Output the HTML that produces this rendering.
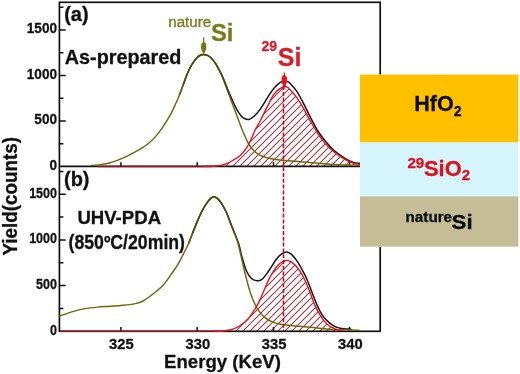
<!DOCTYPE html>
<html><head><meta charset="utf-8"><title>Energy spectrum</title>
<style>
html,body{margin:0;padding:0;background:#fff;}
body{width:520px;height:374px;overflow:hidden;position:relative;font-family:"Liberation Sans",sans-serif;}
svg{position:absolute;left:0;top:0;display:block;}
text{font-family:"Liberation Sans",sans-serif;font-weight:bold;fill:#111;stroke:#111;stroke-width:0.3px;}
.tk{font-size:15.1px;}
.lab{font-size:17px;}
</style></head><body>
<svg width="520" height="374" viewBox="0 0 520 374">
<defs>
<pattern id="hatch" width="7.00" height="7.00" patternUnits="userSpaceOnUse">
<path d="M-0.700,7.700 L7.700,-0.700 M-0.700,0.700 L0.700,-0.700 M6.300,7.700 L7.700,6.300" stroke="#a0303c" stroke-width="1.05" fill="none"/>
</pattern>
</defs>
<rect width="520" height="374" fill="#fff"/>
<!-- hatched areas -->
<path d="M205.0,166.4C207.1,166.3 214.2,166.2 217.6,165.8C220.9,165.4 222.6,165.1 225.1,164.2C227.6,163.3 230.2,162.0 232.7,160.5C235.2,159.0 237.9,157.5 240.2,155.4C242.5,153.3 244.6,150.7 246.5,147.9C248.4,145.1 250.1,141.5 251.5,138.5C252.9,135.5 253.7,132.8 255.1,130.0C256.5,127.2 258.4,124.4 259.8,121.7C261.2,119.0 262.5,116.3 263.8,113.6C265.1,110.9 266.5,108.3 267.9,105.6C269.2,102.9 270.6,99.8 271.9,97.5C273.2,95.2 274.5,93.6 275.9,92.1C277.2,90.6 278.5,89.5 280.0,88.6C281.5,87.7 283.4,86.7 284.7,86.5C286.0,86.3 287.0,86.9 288.0,87.5C289.0,88.1 289.0,88.4 290.5,90.1C292.0,91.8 294.7,94.7 296.8,97.6C298.9,100.5 300.8,103.7 303.1,107.7C305.4,111.7 308.1,117.1 310.6,121.5C313.1,125.9 315.7,130.3 318.2,134.1C320.7,137.9 323.1,141.2 325.7,144.1C328.2,147.0 330.4,148.9 333.5,151.4C336.6,153.9 341.0,156.9 344.2,158.8C347.4,160.8 350.2,162.2 352.8,163.1C355.4,164.0 358.8,164.3 360.0,164.5L360.0,166.4 L205.0,166.4 Z" fill="url(#hatch)"/>
<path d="M215.0,331.3C216.7,331.2 222.2,331.1 225.1,330.7C228.0,330.3 230.2,330.1 232.7,329.2C235.2,328.3 237.7,327.2 240.2,325.5C242.7,323.8 245.5,321.7 247.8,319.2C250.1,316.7 252.2,313.3 254.1,310.4C256.0,307.5 257.4,305.0 259.1,301.6C260.8,298.2 262.4,294.1 264.1,290.3C265.8,286.5 267.4,282.3 269.1,278.9C270.8,275.5 272.5,272.6 274.2,270.1C275.9,267.6 277.5,265.4 279.2,263.9C280.9,262.3 282.7,261.4 284.2,260.8C285.7,260.2 286.5,260.2 288.0,260.6C289.5,261.0 291.1,261.5 293.0,263.1C294.9,264.7 297.3,267.3 299.3,270.1C301.3,272.9 303.1,276.5 304.8,280.0C306.5,283.5 308.0,287.2 309.6,291.2C311.2,295.2 312.8,300.4 314.4,304.1C316.0,307.9 317.7,310.9 319.3,313.7C320.9,316.5 322.5,318.9 324.1,320.9C325.7,322.9 327.3,324.5 328.9,325.7C330.5,326.9 332.2,327.5 333.7,328.2C335.2,328.9 336.1,329.4 337.7,329.8C339.2,330.2 342.1,330.5 343.0,330.6L343.0,331.3 L215.0,331.3 Z" fill="url(#hatch)"/>
<!-- frame -->
<g stroke="#111" stroke-width="1.7" fill="none">
<rect x="59.4" y="2.3" width="320.8" height="329"/>
<line x1="59" y1="166.4" x2="380.2" y2="166.4" stroke-width="1.9"/>
</g>
<!-- ticks -->
<g stroke="#111" stroke-width="1.5">
<path d="M59.4,30h6.3 M59.4,75.5h6.3 M59.4,120.9h6.3 M59.4,194.3h6.3 M59.4,240h6.3 M59.4,285.6h6.3" fill="none"/>
<path d="M59.4,7.3h4 M59.4,52.7h4 M59.4,98.2h4 M59.4,143.7h4 M59.4,171.5h4 M59.4,217.1h4 M59.4,262.8h4 M59.4,308.5h4" fill="none"/>
<path d="M120.9,166.4v-4.2 M197.2,166.4v-4.2 M273.5,166.4v-4.2 M349.5,166.4v-4.2 M120.9,331.3v-4.2 M197.2,331.3v-4.2 M273.5,331.3v-4.2 M349.5,331.3v-4.2" fill="none"/>
</g>
<!-- red baselines -->
<path d="M98,166.4H212 M60,331.3H222" stroke="#921324" stroke-width="1.45" fill="none"/>
<!-- curves a -->
<g fill="none" stroke-linejoin="round" stroke-linecap="round">
<path d="M179.4,94.9C180.1,93.1 182.2,87.6 183.5,84.0C184.8,80.4 186.2,76.4 187.5,73.3C188.8,70.2 189.9,67.8 191.5,65.2C193.1,62.6 195.4,59.5 196.9,57.8C198.4,56.1 199.4,55.8 200.5,55.2C201.6,54.6 202.5,54.4 203.6,54.4C204.7,54.4 205.9,54.7 207.0,55.2C208.1,55.7 208.9,55.9 210.4,57.3C211.9,58.7 214.0,61.0 215.8,63.8C217.6,66.6 219.9,71.2 221.3,74.0C222.7,76.8 222.8,77.3 224.1,80.3C225.3,83.3 227.3,88.6 228.8,92.1C230.3,95.6 231.6,98.6 232.9,101.5C234.2,104.4 235.6,107.2 236.9,109.6C238.2,112.0 239.7,114.2 241.0,115.7C242.3,117.2 243.7,118.2 245.0,118.8C246.3,119.4 247.7,119.7 249.0,119.4C250.3,119.1 251.5,118.3 253.1,117.0C254.7,115.7 256.6,113.8 258.4,111.6C260.2,109.4 262.0,106.4 263.8,103.6C265.6,100.8 267.4,97.5 269.2,94.8C271.0,92.1 272.8,89.4 274.6,87.4C276.4,85.4 278.4,83.8 280.0,82.7C281.6,81.6 282.9,81.0 284.2,80.8C285.5,80.6 286.9,81.3 288.0,81.8C289.1,82.3 289.0,82.2 290.5,83.8C292.0,85.4 294.7,88.2 296.8,91.3C298.9,94.4 300.8,98.2 303.1,102.6C305.4,107.0 308.1,112.9 310.6,117.7C313.1,122.5 315.7,127.5 318.2,131.5C320.7,135.5 323.1,138.5 325.7,141.6C328.2,144.7 330.4,147.3 333.5,150.0C336.6,152.7 341.0,155.8 344.2,157.8C347.4,159.8 350.2,161.2 352.8,162.1C355.4,163.0 358.8,163.3 360.0,163.5" stroke="#151515" stroke-width="1.5"/>
<path d="M91.4,165.4C92.8,165.3 96.8,165.0 100.0,164.6C103.2,164.2 106.9,163.7 110.3,162.8C113.7,161.9 116.9,160.6 120.3,159.2C123.7,157.8 127.0,156.1 130.4,154.4C133.8,152.7 137.6,150.7 140.5,148.9C143.4,147.1 145.5,145.9 148.0,143.8C150.5,141.8 153.0,139.5 155.5,136.6C158.0,133.7 160.6,130.3 163.1,126.6C165.6,122.9 168.4,118.3 170.6,114.4C172.8,110.5 174.5,106.2 176.0,103.0C177.5,99.8 178.2,98.1 179.4,94.9C180.7,91.7 182.2,87.6 183.5,84.0C184.8,80.4 186.2,76.4 187.5,73.3C188.8,70.2 189.9,67.8 191.5,65.2C193.1,62.6 195.4,59.5 196.9,57.8C198.4,56.1 199.4,55.8 200.5,55.2C201.6,54.6 202.5,54.4 203.6,54.4C204.7,54.4 205.9,54.7 207.0,55.2C208.1,55.7 208.9,55.9 210.4,57.3C211.9,58.7 214.0,61.0 215.8,63.8C217.6,66.6 219.5,70.5 221.1,73.9C222.7,77.3 223.8,80.5 225.2,84.0C226.5,87.5 228.1,91.9 229.2,94.8C230.2,97.7 230.4,98.6 231.5,101.5C232.6,104.4 234.2,108.7 235.6,112.3C236.9,115.9 238.5,120.1 239.6,123.1C240.7,126.0 241.2,127.4 242.3,130.0C243.4,132.6 244.9,136.1 246.0,138.5C247.1,140.9 247.7,142.4 249.0,144.5C250.3,146.6 252.2,149.2 254.1,151.0C256.0,152.8 258.0,154.2 260.3,155.4C262.6,156.6 265.4,157.3 267.9,158.0C270.4,158.7 272.5,159.1 275.4,159.5C278.3,159.9 281.3,160.1 285.5,160.5C289.7,160.9 295.6,161.3 300.6,161.7C305.6,162.1 310.8,162.6 315.7,163.0C320.6,163.4 325.1,163.9 330.0,164.2C334.9,164.5 340.0,164.8 345.0,165.0C350.0,165.2 357.5,165.4 360.0,165.5" stroke="#69690a" stroke-width="1.45"/>
<path d="M183.5,84.0C184.2,82.2 186.2,76.4 187.5,73.3C188.8,70.2 189.9,67.8 191.5,65.2C193.1,62.6 195.4,59.5 196.9,57.8C198.4,56.1 199.4,55.8 200.5,55.2C201.6,54.6 202.5,54.4 203.6,54.4C204.7,54.4 205.9,54.7 207.0,55.2C208.1,55.7 208.9,55.9 210.4,57.3C211.9,58.7 214.0,61.0 215.8,63.8C217.6,66.6 219.5,70.5 221.1,73.9C222.7,77.3 223.8,80.5 225.2,84.0C226.5,87.5 228.5,93.0 229.2,94.8" stroke="#222200" stroke-width="1.5" stroke-opacity="0.4"/>
<path d="M205.0,166.4C207.1,166.3 214.2,166.2 217.6,165.8C220.9,165.4 222.6,165.1 225.1,164.2C227.6,163.3 230.2,162.0 232.7,160.5C235.2,159.0 237.9,157.5 240.2,155.4C242.5,153.3 244.6,150.7 246.5,147.9C248.4,145.1 250.1,141.5 251.5,138.5C252.9,135.5 253.7,132.8 255.1,130.0C256.5,127.2 258.4,124.4 259.8,121.7C261.2,119.0 262.5,116.3 263.8,113.6C265.1,110.9 266.5,108.3 267.9,105.6C269.2,102.9 270.6,99.8 271.9,97.5C273.2,95.2 274.5,93.6 275.9,92.1C277.2,90.6 278.5,89.5 280.0,88.6C281.5,87.7 283.4,86.7 284.7,86.5C286.0,86.3 287.0,86.9 288.0,87.5C289.0,88.1 289.0,88.4 290.5,90.1C292.0,91.8 294.7,94.7 296.8,97.6C298.9,100.5 300.8,103.7 303.1,107.7C305.4,111.7 308.1,117.1 310.6,121.5C313.1,125.9 315.7,130.3 318.2,134.1C320.7,137.9 323.1,141.2 325.7,144.1C328.2,147.0 330.4,148.9 333.5,151.4C336.6,153.9 341.0,156.9 344.2,158.8C347.4,160.8 350.2,162.2 352.8,163.1C355.4,164.0 358.8,164.3 360.0,164.5" stroke="#e2121c" stroke-width="1.4"/>
<path d="M188.6,243.5C189.3,241.8 191.1,236.8 192.6,233.1C194.1,229.4 195.8,224.8 197.4,221.1C199.0,217.3 200.6,213.7 202.2,210.6C203.8,207.5 205.6,204.7 207.1,202.6C208.6,200.5 210.0,199.1 211.1,198.1C212.2,197.1 212.8,196.6 213.9,196.7C215.0,196.8 216.2,197.5 217.5,198.6C218.8,199.7 220.0,201.1 221.5,203.4C223.0,205.7 224.8,209.0 226.3,212.2C227.8,215.4 229.0,219.0 230.4,222.5C231.8,226.0 233.2,229.4 234.6,233.0C236.0,236.6 237.6,240.2 238.8,244.0C240.0,247.8 240.4,251.5 241.7,256.0C243.0,260.5 244.9,267.2 246.5,271.0C248.1,274.8 249.8,276.9 251.5,278.5C253.2,280.1 254.9,280.5 256.6,280.7C258.3,280.9 259.9,280.8 261.6,279.7C263.3,278.6 264.9,276.1 266.6,273.9C268.3,271.7 270.0,268.9 271.7,266.4C273.4,263.9 275.0,260.9 276.7,258.8C278.4,256.7 280.0,254.9 281.7,253.8C283.4,252.7 285.0,251.9 286.7,252.0C288.4,252.1 289.9,252.8 291.8,254.6C293.7,256.4 296.0,259.4 298.1,262.6C300.2,265.8 302.8,271.0 304.3,273.9C305.8,276.8 305.8,276.6 307.2,280.0C308.6,283.4 311.1,290.0 312.8,294.4C314.6,298.8 316.1,303.0 317.7,306.5C319.3,310.0 320.9,312.9 322.5,315.3C324.1,317.7 325.7,319.3 327.3,320.9C328.9,322.5 330.5,323.8 332.1,324.9C333.7,326.0 335.3,326.8 336.9,327.4C338.5,328.0 339.8,328.2 341.7,328.5C343.6,328.8 346.6,328.9 348.2,329.0C349.8,329.1 350.5,329.2 351.0,329.3" stroke="#151515" stroke-width="1.5"/>
<path d="M60.0,315.9C62.1,315.2 68.4,312.8 72.6,311.6C76.8,310.4 80.9,309.4 85.1,308.6C89.3,307.9 93.5,307.5 97.7,307.1C101.9,306.7 106.1,306.6 110.3,306.3C114.5,306.0 118.7,305.8 122.9,305.3C127.1,304.9 132.1,304.3 135.4,303.6C138.8,302.9 140.1,302.6 143.0,301.0C145.9,299.4 149.7,296.6 153.0,294.0C156.3,291.4 160.2,288.3 163.1,285.2C166.0,282.1 168.1,278.7 170.6,275.1C173.1,271.5 175.9,267.7 178.2,263.8C180.5,259.9 182.8,255.2 184.5,251.8C186.2,248.4 187.2,246.6 188.6,243.5C189.9,240.4 191.1,236.8 192.6,233.1C194.1,229.4 195.8,224.8 197.4,221.1C199.0,217.3 200.6,213.7 202.2,210.6C203.8,207.5 205.6,204.7 207.1,202.6C208.6,200.5 210.0,199.1 211.1,198.1C212.2,197.1 212.8,196.6 213.9,196.7C215.0,196.8 216.2,197.5 217.5,198.6C218.8,199.7 220.0,201.1 221.5,203.4C223.0,205.7 224.8,209.0 226.3,212.2C227.8,215.4 229.0,219.2 230.3,222.7C231.6,226.2 233.0,229.5 234.3,233.1C235.6,236.7 237.1,240.3 238.3,244.5C239.5,248.7 240.3,253.0 241.5,258.0C242.7,263.0 243.8,268.8 245.3,274.5C246.8,280.2 248.6,287.4 250.3,292.5C252.0,297.6 253.6,301.6 255.3,305.0C257.0,308.4 258.6,310.8 260.3,312.9C262.0,315.0 263.5,316.4 265.4,317.9C267.3,319.4 269.2,320.6 271.7,321.7C274.2,322.8 276.5,323.5 280.5,324.2C284.5,324.9 290.1,325.4 295.5,326.0C300.9,326.6 307.0,326.9 313.1,327.5C319.2,328.1 324.4,328.9 332.0,329.4C339.6,329.9 354.5,330.1 359.0,330.3" stroke="#69690a" stroke-width="1.45"/>
<path d="M192.6,233.1C193.4,231.1 195.8,224.8 197.4,221.1C199.0,217.3 200.6,213.7 202.2,210.6C203.8,207.5 205.6,204.7 207.1,202.6C208.6,200.5 210.0,199.1 211.1,198.1C212.2,197.1 212.8,196.6 213.9,196.7C215.0,196.8 216.2,197.5 217.5,198.6C218.8,199.7 220.0,201.1 221.5,203.4C223.0,205.7 224.8,209.0 226.3,212.2C227.8,215.4 229.0,219.2 230.3,222.7C231.6,226.2 233.6,231.4 234.3,233.1" stroke="#222200" stroke-width="1.5" stroke-opacity="0.4"/>
<path d="M215.0,331.3C216.7,331.2 222.2,331.1 225.1,330.7C228.0,330.3 230.2,330.1 232.7,329.2C235.2,328.3 237.7,327.2 240.2,325.5C242.7,323.8 245.5,321.7 247.8,319.2C250.1,316.7 252.2,313.3 254.1,310.4C256.0,307.5 257.4,305.0 259.1,301.6C260.8,298.2 262.4,294.1 264.1,290.3C265.8,286.5 267.4,282.3 269.1,278.9C270.8,275.5 272.5,272.6 274.2,270.1C275.9,267.6 277.5,265.4 279.2,263.9C280.9,262.3 282.7,261.4 284.2,260.8C285.7,260.2 286.5,260.2 288.0,260.6C289.5,261.0 291.1,261.5 293.0,263.1C294.9,264.7 297.3,267.3 299.3,270.1C301.3,272.9 303.1,276.5 304.8,280.0C306.5,283.5 308.0,287.2 309.6,291.2C311.2,295.2 312.8,300.4 314.4,304.1C316.0,307.9 317.7,310.9 319.3,313.7C320.9,316.5 322.5,318.9 324.1,320.9C325.7,322.9 327.3,324.5 328.9,325.7C330.5,326.9 332.2,327.5 333.7,328.2C335.2,328.9 336.1,329.4 337.7,329.8C339.2,330.2 342.1,330.5 343.0,330.6" stroke="#e2121c" stroke-width="1.4"/>
</g>
<!-- dashed line -->
<line x1="283.5" y1="86" x2="283.5" y2="331.3" stroke="#bf0c1a" stroke-width="1.6" stroke-dasharray="4 1.8"/>
<!-- arrows -->
<g fill="#77771a" stroke="#77771a">
<line x1="203.7" y1="37.3" x2="203.7" y2="46" stroke-width="1.3"/>
<path d="M203.7,41.6 L206.2,44 L206.3,48.8 L203.7,55.2 L201.1,48.8 L201.2,44 Z" stroke="none"/>
</g>
<g fill="#ea141c" stroke="#ea141c">
<line x1="284.3" y1="72.6" x2="284.3" y2="80" stroke-width="1.3"/>
<path d="M284.3,74.4 L286.9,77 L287,82 L284.3,89.3 L281.6,82 L281.7,77 Z" stroke="none"/>
</g>
<!-- layer boxes -->
<rect x="360" y="74.6" width="158.3" height="172" fill="#d5f4fb"/>
<rect x="360" y="74.6" width="158.3" height="67.6" fill="#ffc000"/>
<rect x="360" y="196.4" width="158.3" height="50.2" fill="#c4bd97"/>
<!-- y tick labels -->
<g class="tk" text-anchor="end">
<text transform="translate(57,33.4) scale(0.90,1)">1500</text>
<text transform="translate(57,78.9) scale(0.90,1)">1000</text>
<text transform="translate(57,124.3) scale(0.90,1)">500</text>
<text transform="translate(57,169.8) scale(0.90,1)">0</text>
<text transform="translate(57,197.7) scale(0.83,1)">1500</text>
<text transform="translate(57,243.4) scale(0.83,1)">1000</text>
<text transform="translate(57,289.0) scale(0.83,1)">500</text>
<text transform="translate(57,334.7) scale(0.83,1)">0</text>
</g>
<g class="tk" text-anchor="middle">
<text transform="translate(121.4,349.3) scale(0.965,1)" font-size="15.3">325</text>
<text transform="translate(197.8,349.3) scale(0.965,1)" font-size="15.3">330</text>
<text transform="translate(274.1,349.3) scale(0.965,1)" font-size="15.3">335</text>
<text transform="translate(350.3,349.3) scale(0.965,1)" font-size="15.3">340</text>
</g>
<text x="222.5" y="367.7" text-anchor="middle" font-size="18.6">Energy (KeV)</text>
<text transform="translate(16.7,196.3) rotate(-90) scale(0.965,1)" text-anchor="middle" font-size="19.5">Yield(counts)</text>
<text transform="translate(64.2,21.3) scale(1.01,1)" font-size="19.8">(a)</text>
<text transform="translate(64,186.3) scale(1.01,1)" font-size="19.8">(b)</text>
<text x="64.8" y="64.3" font-size="19.8">As-prepared</text>
<text x="77.4" y="224.2" font-size="18.6">UHV-PDA</text>
<text transform="translate(68.5,249.3) scale(0.912,1)" font-size="19.4">(850ºC/20min)</text>
<!-- peak labels -->
<text x="168.3" y="27.3" font-size="15.1" style="font-weight:normal;fill:#7a7a1c;stroke:#7a7a1c;stroke-width:0.35px">nature</text>
<text x="211" y="41.2" font-size="23.7" style="fill:#7a7a1c;stroke:#7a7a1c">Si</text>
<text transform="translate(261.5,50.6) scale(0.95,1)" font-size="14.8" style="fill:#da1c28;stroke:#da1c28">29</text>
<text x="277.8" y="65.7" font-size="25" style="fill:#da1c28;stroke:#da1c28">Si</text>
<!-- layer labels -->
<text transform="translate(414.3,111) scale(0.945,1)" font-size="22.8" style="fill:#0a0a0a;stroke:#0a0a0a">HfO<tspan font-size="15" dy="4.6">2</tspan></text>
<text x="407.4" y="167.8" font-size="15.2" style="fill:#e0101c;stroke:#e0101c">29</text>
<text x="424" y="176" font-size="21.9" style="fill:#e0101c;stroke:#e0101c">SiO<tspan font-size="15" dy="4.2">2</tspan></text>
<text x="405.6" y="222.1" font-size="15.2" style="fill:#0a0a0a;stroke:#0a0a0a">nature</text>
<text transform="translate(451.6,228.8) scale(1.08,1)" font-size="20.6" style="fill:#0a0a0a;stroke:#0a0a0a">Si</text>
</svg>
</body></html>
